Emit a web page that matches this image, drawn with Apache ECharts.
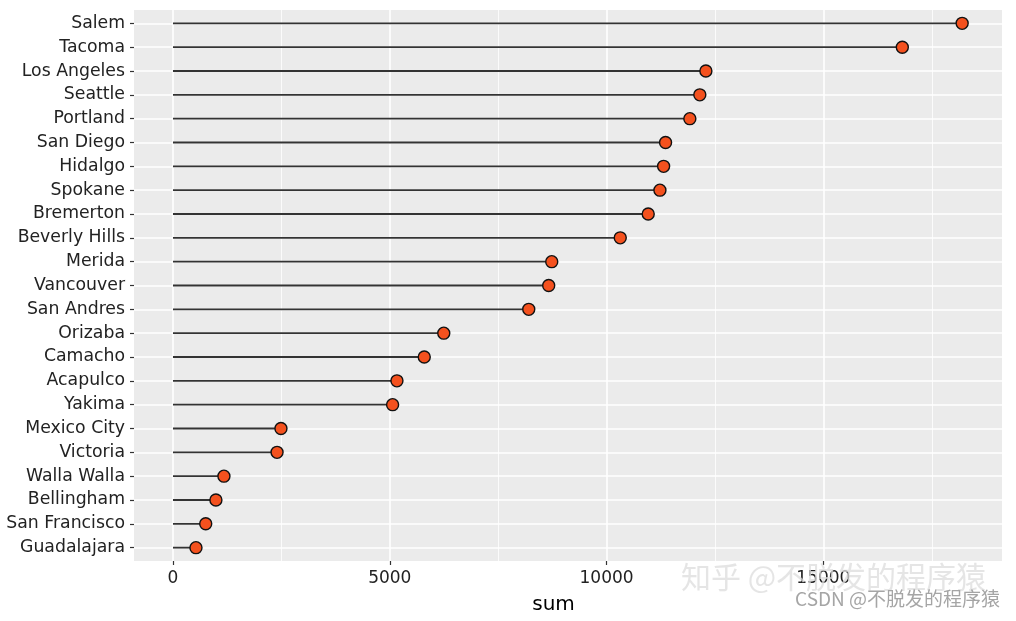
<!DOCTYPE html>
<html>
<head>
<meta charset="utf-8">
<script src="https://cdn.jsdelivr.net/npm/echarts@6/dist/echarts.min.js"></script>
<style>
  html, body { margin: 0; padding: 0; background: #fff; }
  #chart { width: 1016px; height: 621px; }
</style>
</head>
<body>
<div id="chart"></div>
<script>
// top-to-bottom order, as in the picture
const cities = ['Salem', 'Tacoma', 'Los Angeles', 'Seattle', 'Portland', 'San Diego', 'Hidalgo',
  'Spokane', 'Bremerton', 'Beverly Hills', 'Merida', 'Vancouver', 'San Andres', 'Orizaba',
  'Camacho', 'Acapulco', 'Yakima', 'Mexico City', 'Victoria', 'Walla Walla', 'Bellingham',
  'San Francisco', 'Guadalajara']
const sums = [18200, 16820, 12290, 12150, 11920, 11360, 11315, 11230, 10960, 10315, 8735,
  8665, 8205, 6245, 5795, 5165, 5065, 2490, 2400, 1175, 990, 755, 530]
const xTicks = [0, 5000, 10000, 15000]
const xMinor = [2500, 7500, 12500, 17500]

// y index 0 = bottom row
const names = cities.slice().reverse()
const values = sums.slice().reverse()
const rows = names.map((n, i) => i)
const points = values.map((v, i) => [v, i])

const chart = echarts.init(document.getElementById('chart'))

const font = 'DejaVu Sans'
const hidden = { show: true, onZero: false, lineStyle: { color: 'rgba(0,0,0,0)' } }

const option = {
  animation: false,
  textStyle: { fontFamily: font },
  grid: {
    left: 134, right: 14, top: 10, bottom: 60,
    show: true, backgroundColor: '#EBEBEB', borderWidth: 0
  },
  xAxis: {
    type: 'value',
    min: -899, max: 19119,
    name: 'sum',
    nameLocation: 'middle',
    nameGap: 34,
    nameTextStyle: { fontSize: 20, color: '#000', fontFamily: font, padding: [0, 29, 0, 0] },
    axisLine: hidden,
    axisTick: { show: true, length: 4, lineStyle: { color: '#333', width: 1.2 }, customValues: xTicks },
    axisLabel: { fontSize: 17, color: '#222', margin: 9, customValues: xTicks, formatter: v => String(v) },
    splitLine: { show: false }
  },
  yAxis: {
    type: 'value',
    min: -0.56, max: 22.56,
    axisLine: hidden,
    axisTick: { show: true, length: 4, lineStyle: { color: '#333', width: 1.2 }, customValues: rows },
    axisLabel: {
      fontSize: 17.3, color: '#222', margin: 9, customValues: rows,
      formatter: v => names[Math.round(v)]
    },
    splitLine: { show: false }
  },
  series: [
    {
      // panel grid lines
      type: 'line',
      data: [],
      silent: true,
      z: 1,
      markLine: {
        silent: true,
        z: 1,
        symbol: 'none',
        label: { show: false },
        animation: false,
        data: [
          ...xMinor.map(v => ({ xAxis: v, lineStyle: { color: '#fff', width: 0.8, type: 'solid' } })),
          ...xTicks.map(v => ({ xAxis: v, lineStyle: { color: '#fff', width: 1.6, type: 'solid' } })),
          ...rows.map(v => ({ yAxis: v, lineStyle: { color: '#fff', width: 1.6, type: 'solid' } }))
        ]
      }
    },
    {
      // stems
      type: 'custom',
      z: 3,
      silent: true,
      data: points,
      renderItem: (params, api) => {
        const a = api.coord([0, api.value(1)])
        const b = api.coord([api.value(0), api.value(1)])
        return {
          type: 'line',
          shape: { x1: a[0], y1: a[1], x2: b[0], y2: b[1] },
          style: { stroke: '#333', lineWidth: 1.8 }
        }
      }
    },
    {
      type: 'scatter',
      z: 4,
      data: points,
      symbolSize: 12,
      itemStyle: { color: '#F4511E', borderColor: '#111', borderWidth: 1.4, opacity: 1 }
    }
  ],
  graphic: {
    elements: [
      {
        type: 'text', left: 681, top: 562, z: 100, silent: true,
        style: {
          text: '知乎 @不脱发的程序猿',
          font: '30px "Noto Sans CJK SC"',
          fill: 'rgba(220,220,220,0.75)',
          shadowColor: 'rgba(0,0,0,0.3)', shadowBlur: 1, shadowOffsetX: 1, shadowOffsetY: 1
        }
      },
      {
        type: 'text', right: 16, top: 589, z: 100, silent: true,
        style: {
          text: 'CSDN @不脱发的程序猿',
          font: '19px "Noto Sans CJK SC"',
          fill: 'rgba(160,160,160,0.95)'
        }
      }
    ]
  }
}

chart.setOption(option)
</script>
</body>
</html>
